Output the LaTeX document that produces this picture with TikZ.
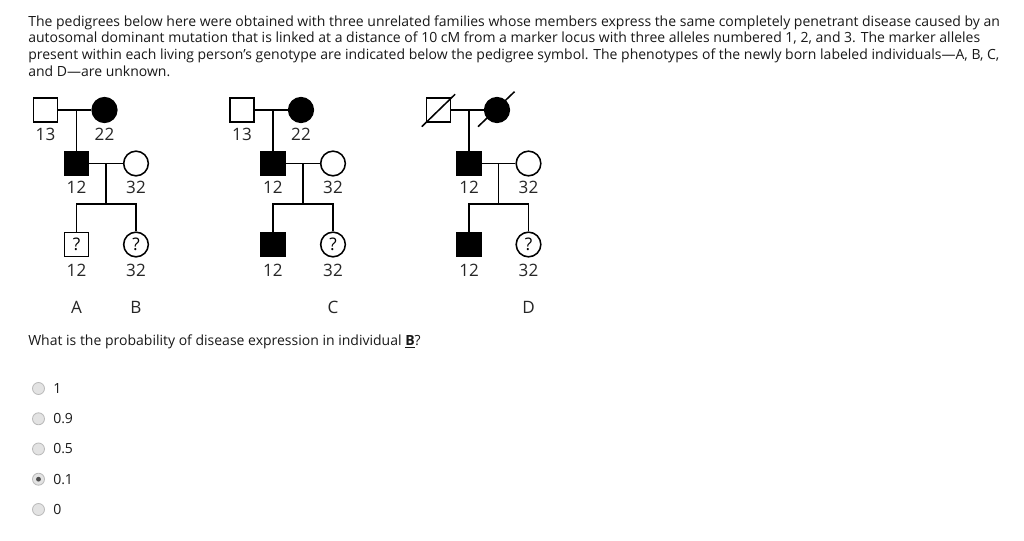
\documentclass[tikz,border=0pt]{standalone}
\usepackage{fontspec}
\setmainfont{Open Sans}
\begin{document}
\begin{tikzpicture}[x=0.75pt,y=-0.75pt,
  pline/.style={line width=1.15pt},
  male/.style={draw,line width=1.15pt,rectangle,minimum size=18pt,inner sep=0pt,font=\fontsize{13}{14}\selectfont},
  female/.style={draw,line width=1.15pt,circle,minimum size=18.5pt,inner sep=0pt,font=\fontsize{13}{14}\selectfont},
  aff/.style={fill=black},
  gtype/.style={anchor=base,inner sep=0pt,font=\fontsize{12.8}{14}\selectfont,text=black!85},
  para/.style={anchor=base west,inner sep=0pt,font=\fontsize{10.5}{12}\selectfont,text=black!90},
  radio/.style={circle,draw=gray!55,fill=gray!22,line width=0.6pt,minimum size=9pt,inner sep=0pt},
  radiodot/.style={circle,fill=black!70,minimum size=3.6pt,inner sep=0pt}]
\useasboundingbox (0,0) rectangle (1024,541);
\fill[white] (0,0) rectangle (1024,541);

% header text
\node[para] (t1) at (28,26.3) {The pedigrees below here were obtained with three unrelated families whose members express the same completely penetrant disease caused by an};
\node[para] (t2) at (28,43) {autosomal dominant mutation that is linked at a distance of 10 cM from a marker locus with three alleles numbered 1, 2, and 3. The marker alleles};
\node[para] (t3) at (28,59.8) {present within each living person’s genotype are indicated below the pedigree symbol. The phenotypes of the newly born labeled individuals—A, B, C,};
\node[para] (t4) at (28,76.6) {and D—are unknown.};

% pedigree 1
\node[male] (f1) at (45.5,110) {};
\node[female,aff] (m1) at (104.5,110) {};
\node[male,aff] (s1) at (76.5,163.5) {};
\node[female] (w1) at (136,163.5) {};
\node[male] (a1) at (76.5,244.5) {?};
\node[female] (b1) at (136,244.5) {?};
% pedigree 2
\node[male] (f2) at (242,110) {};
\node[female,aff] (m2) at (301,110) {};
\node[male,aff] (s2) at (272.8,163.5) {};
\node[female] (w2) at (333,163.5) {};
\node[male,aff] (a2) at (272.8,244.5) {};
\node[female] (b2) at (333,244.5) {?};
% pedigree 3
\node[male] (f3) at (438.5,110) {};
\node[female,aff] (m3) at (497,110) {};
\node[male,aff] (s3) at (469.2,163.5) {};
\node[female] (w3) at (528.5,163.5) {};
\node[male,aff] (a3) at (469.2,244.5) {};
\node[female] (b3) at (528.5,244.5) {?};
% deceased slashes
\draw[pline] (f3.center) ++(-16.8,16.7) -- ++(33.4,-32.4);
\draw[pline] (m3.center) ++(-19,16.7) -- ++(36.5,-35);

\coordinate (sy) at (0,203.8);
\foreach \i in {1,2,3}{
  \draw[pline] (f\i.east) -- (m\i.west);
  \draw[pline] (s\i.north) -- (s\i.north |- f\i.east);
  \draw[pline] (s\i.east) -- (w\i.west);
  \path (s\i.east) -- (w\i.west) coordinate[pos=0.5] (mid\i);
  \coordinate (sib\i) at (mid\i |- sy);
  \draw[pline] (mid\i) -- (sib\i);
  \draw[pline] (a\i.north) |- (sib\i) -| (b\i.north);
}

% genotype labels
\node[gtype] (g1f) at (45.5,140.7) {13};
\node[gtype] (g1m) at (104.5,140.7) {22};
\node[gtype] (g2f) at (242,140.7) {13};
\node[gtype] (g2m) at (301,140.7) {22};
\foreach \i/\sx/\wx in {1/76.5/136, 2/272.8/333, 3/469.2/528.5}{
  \node[gtype] (gs\i) at (\sx,193.3) {12};
  \node[gtype] (gw\i) at (\wx,193.3) {32};
  \node[gtype] (ga\i) at (\sx,276.7) {12};
  \node[gtype] (gb\i) at (\wx,276.7) {32};
}
\node[gtype] (lA) at (76.5,314) {A};
\node[gtype] (lB) at (136,314) {B};
\node[gtype] (lC) at (333,314) {C};
\node[gtype] (lD) at (528.5,314) {D};

% question
\node[para] (q) at (28,345.5) {What is the probability of disease expression in individual \underline{\textbf{B}}?};

% options
\node[radio] (r1) at (38.5,388.5) {};
\node[radio] (r2) at (38.5,418.8) {};
\node[radio] (r3) at (38.5,449) {};
\node[radio] (r4) at (38.5,479.2) {};
\node[radio] (r5) at (38.5,509.5) {};
\node[radiodot] (rd) at (r4.center) {};
\node[para] (o1) at (53,393.3) {1};
\node[para] (o2) at (53,423.6) {0.9};
\node[para] (o3) at (53,453.8) {0.5};
\node[para] (o4) at (53,484) {0.1};
\node[para] (o5) at (53,514.3) {0};
\end{tikzpicture}
\end{document}
